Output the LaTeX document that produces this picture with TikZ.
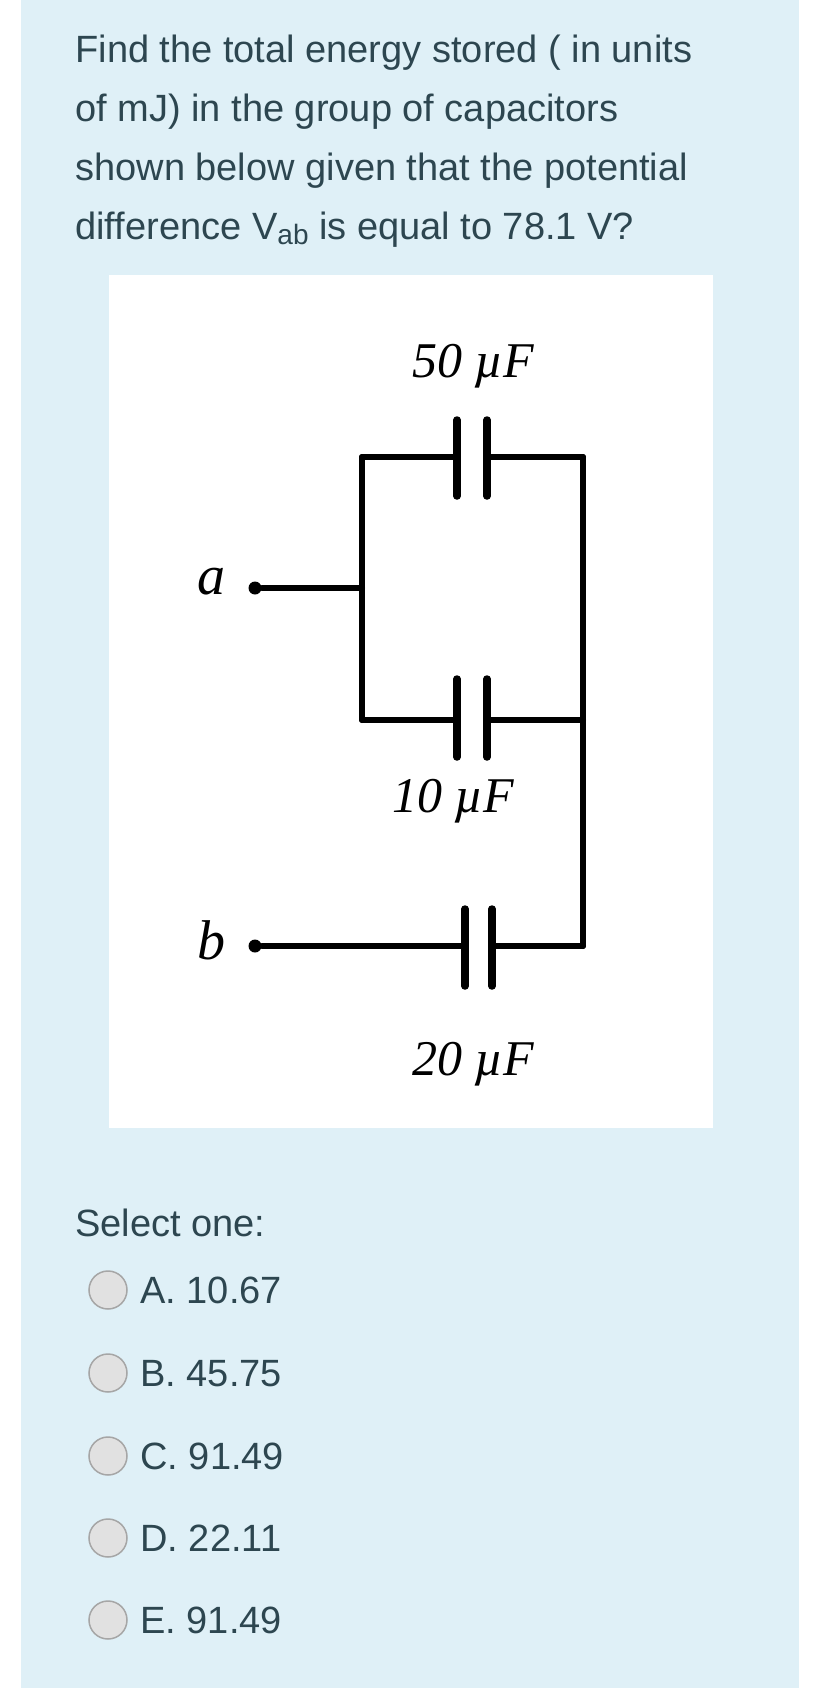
\documentclass[tikz,border=0pt]{standalone}
\usepackage{fontspec}
\setmainfont{Liberation Sans}
\newfontfamily\circfont{Liberation Serif}
\definecolor{panelblue}{RGB}{223,240,247}
\definecolor{textgrey}{RGB}{45,70,80}
\definecolor{radiogrey}{RGB}{225,225,225}
\tikzset{every picture/.style={line width=0.75pt}}
\tikzset{
  wire/.style={line width=6pt, line cap=round, line join=round},
  plate/.style={line width=7.5pt, line cap=round},
  qtext/.style={anchor=base west, inner sep=0pt, text=textgrey, font=\fontsize{38}{46}\selectfont},
  clabel/.style={inner sep=0pt, font=\circfont\fontsize{50}{58}\selectfont\itshape},
  plabel/.style={inner sep=0pt, font=\circfont\fontsize{56}{62}\selectfont\itshape},
  radio/.style={circle, draw=gray!70, fill=radiogrey, line width=1.5pt, minimum size=38pt, inner sep=0pt},
  terminal/.style={circle, fill=black, minimum size=13pt, inner sep=0pt}
}

\begin{document}
\begin{tikzpicture}[x=1pt,y=1pt,yscale=-1,xscale=1]
\useasboundingbox (0,0) rectangle (820,1688);
%Background
\fill[white] (0,0) rectangle (820,1688);
\fill[panelblue] (21,0) rectangle (799,1688);
\fill[white] (109,275) rectangle (713,1128);

% Question text
\node[qtext] (q1) at (75,63) {Find the total energy stored ( in units};
\node[qtext] (q2) at (75,122) {of mJ) in the group of capacitors};
\node[qtext] (q3) at (75,181) {shown below given that the potential};
\node[qtext] (q4) at (75,240) {difference V\raisebox{-0.12em}{\fontsize{28}{30}\selectfont ab} is equal to 78.1 V?};

% Circuit
\node[terminal] (a) at (255,588) {};
\node[terminal] (b) at (255,946) {};
\node[plabel, anchor=east] (la) at (226,582) {a};
\node[plabel, anchor=east] (lb) at (226,940) {b};
\coordinate (tl) at (362,457);
\coordinate (tr) at (583,457);
\coordinate (bl) at (362,720);
\coordinate (br) at (583,720);
\coordinate (ja) at (362,588);
\coordinate (rb) at (583,946);
% 50 uF
\draw[wire] (tl) -- (457,457) (487,457) -- (tr);
\draw[plate] (457,420) -- (457,496) (487,420) -- (487,496);
% 10 uF
\draw[wire] (bl) -- (457,720) (487,720) -- (br);
\draw[plate] (457,679) -- (457,757) (487,679) -- (487,757);
% 20 uF
\draw[wire] (b) -- (465,946) (492,946) -- (rb);
\draw[plate] (465,909) -- (465,986) (492,909) -- (492,986);
\draw[wire] (a) -- (ja);
\draw[wire] (tl) -- (bl);
\draw[wire] (tr) -- (rb);

\node[clabel] (c50) at (473,366) {50 µF};
\node[clabel] (c10) at (453,801) {10 µF};
\node[clabel] (c20) at (473,1064) {20 µF};

% Answers
\node[qtext] (sel) at (75,1236) {Select one:};
\foreach \i/\y/\t in {A/1303/{A. 10.67},B/1386/{B. 45.75},C/1469/{C. 91.49},D/1551/{D. 22.11},E/1633/{E. 91.49}}{
  \node[radio] (r\i) at (108,\y-13) {};
  \node[qtext, anchor=base west] (t\i) at (140,\y) {\t};
}

\end{tikzpicture}
\end{document}
